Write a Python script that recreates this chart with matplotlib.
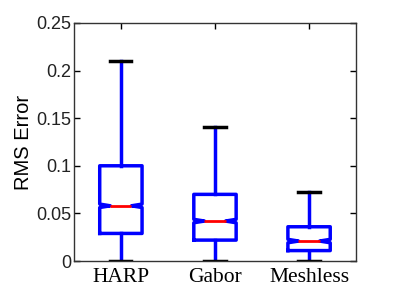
import numpy as np
import matplotlib
matplotlib.use('Agg')
import matplotlib.pyplot as plt

# values (RMS error per method)
methods = ['HARP', 'Gabor', 'Meshless']
whis_lo = [0.0, 0.0, 0.0]
q1 = [0.029, 0.022, 0.011]
med = [0.058, 0.042, 0.021]
q3 = [0.100, 0.070, 0.036]
whis_hi = [0.210, 0.141, 0.0725]
notch_lo = [0.0562, 0.0402, 0.0192]
notch_hi = [0.0598, 0.0438, 0.0228]

stats = []
for i, name in enumerate(methods):
    stats.append({'label': name, 'whislo': whis_lo[i], 'q1': q1[i], 'med': med[i],
                  'q3': q3[i], 'whishi': whis_hi[i], 'cilo': notch_lo[i],
                  'cihi': notch_hi[i], 'fliers': []})

fig = plt.figure(figsize=(3.97, 2.97), dpi=100)
ax = fig.add_axes([0.186, 0.121, 0.711, 0.802])

blue = '#0000ff'
ax.bxp(stats, positions=[1, 2, 3], widths=0.45, shownotches=True, showfliers=False,
       boxprops=dict(color=blue, linewidth=2.5),
       whiskerprops=dict(color=blue, linewidth=2.5),
       capprops=dict(color='black', linewidth=2.5),
       medianprops=dict(color='red', linewidth=2))

ax.set_xlim(0.5, 3.5)
ax.set_ylim(0, 0.25)
ax.set_yticks([0, 0.05, 0.1, 0.15, 0.2, 0.25])
ax.set_yticklabels(['0', '0.05', '0.1', '0.15', '0.2', '0.25'],
                   fontsize=13, family='Liberation Sans', color='#222222')
ax.set_xticks([1, 2, 3])
ax.set_xticklabels(methods, fontsize=15.5, family='Liberation Serif')
ax.set_ylabel('RMS Error', fontsize=14.5, family='Liberation Sans', labelpad=2)
ax.tick_params(direction='in', top=True, right=True, length=4, width=1)
ax.tick_params(axis='x', pad=5)
ax.tick_params(axis='y', pad=2)
for s in ax.spines.values():
    s.set_linewidth(1)
    s.set_color('#333333')

fig.savefig('out.png', dpi=100)
